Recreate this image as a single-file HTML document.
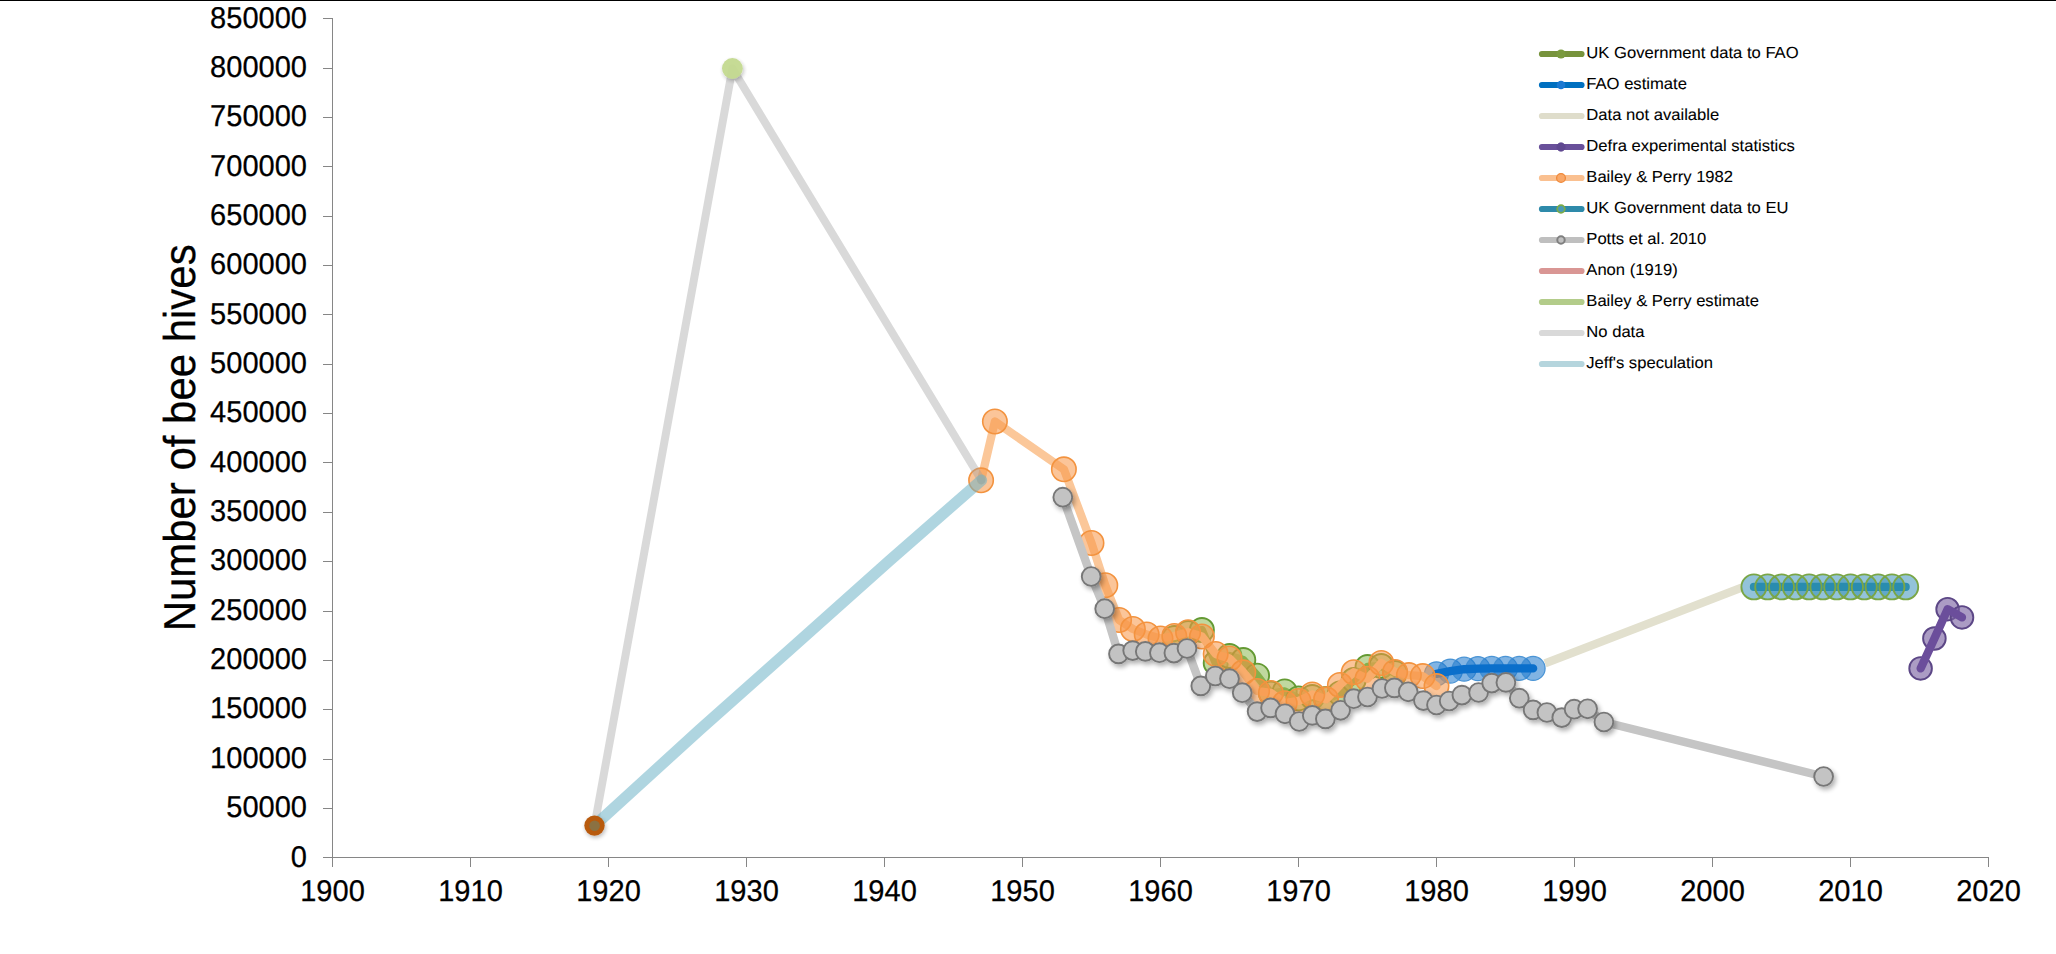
<!DOCTYPE html>
<html lang="en"><head><meta charset="utf-8"><title>Number of bee hives</title>
<style>html,body{margin:0;padding:0;background:#fff}body{width:2056px;height:954px;overflow:hidden}svg{display:block;text-rendering:geometricPrecision}text{font-family:"Liberation Sans",sans-serif;fill:#000;stroke:#000;stroke-width:0.25px}</style>
</head><body>
<svg width="2056" height="954" viewBox="0 0 2056 954">
<rect x="0" y="0" width="2056" height="954" fill="#fff"/>
<rect x="0" y="0" width="2056" height="1" fill="#000"/>
<g stroke="#868686" stroke-width="1" fill="none" shape-rendering="crispEdges">
<line x1="332.5" y1="18" x2="332.5" y2="867"/>
<line x1="323" y1="857.5" x2="1988.5" y2="857.5"/>
<line x1="323" y1="857.5" x2="332.5" y2="857.5"/>
<line x1="323" y1="808.5" x2="332.5" y2="808.5"/>
<line x1="323" y1="759.5" x2="332.5" y2="759.5"/>
<line x1="323" y1="709.5" x2="332.5" y2="709.5"/>
<line x1="323" y1="660.5" x2="332.5" y2="660.5"/>
<line x1="323" y1="611.5" x2="332.5" y2="611.5"/>
<line x1="323" y1="561.5" x2="332.5" y2="561.5"/>
<line x1="323" y1="512.5" x2="332.5" y2="512.5"/>
<line x1="323" y1="462.5" x2="332.5" y2="462.5"/>
<line x1="323" y1="413.5" x2="332.5" y2="413.5"/>
<line x1="323" y1="364.5" x2="332.5" y2="364.5"/>
<line x1="323" y1="314.5" x2="332.5" y2="314.5"/>
<line x1="323" y1="265.5" x2="332.5" y2="265.5"/>
<line x1="323" y1="216.5" x2="332.5" y2="216.5"/>
<line x1="323" y1="166.5" x2="332.5" y2="166.5"/>
<line x1="323" y1="117.5" x2="332.5" y2="117.5"/>
<line x1="323" y1="68.5" x2="332.5" y2="68.5"/>
<line x1="323" y1="18.5" x2="332.5" y2="18.5"/>
<line x1="332.5" y1="857.5" x2="332.5" y2="867"/>
<line x1="470.5" y1="857.5" x2="470.5" y2="867"/>
<line x1="608.5" y1="857.5" x2="608.5" y2="867"/>
<line x1="746.5" y1="857.5" x2="746.5" y2="867"/>
<line x1="884.5" y1="857.5" x2="884.5" y2="867"/>
<line x1="1022.5" y1="857.5" x2="1022.5" y2="867"/>
<line x1="1160.5" y1="857.5" x2="1160.5" y2="867"/>
<line x1="1298.5" y1="857.5" x2="1298.5" y2="867"/>
<line x1="1436.5" y1="857.5" x2="1436.5" y2="867"/>
<line x1="1574.5" y1="857.5" x2="1574.5" y2="867"/>
<line x1="1712.5" y1="857.5" x2="1712.5" y2="867"/>
<line x1="1850.5" y1="857.5" x2="1850.5" y2="867"/>
<line x1="1988.5" y1="857.5" x2="1988.5" y2="867"/>
</g>
<g font-size="30" text-anchor="end">
<text transform="translate(307.0,867.15) scale(0.968,1)">0</text>
<text transform="translate(307.0,817.15) scale(0.968,1)">50000</text>
<text transform="translate(307.0,768.15) scale(0.968,1)">100000</text>
<text transform="translate(307.0,718.15) scale(0.968,1)">150000</text>
<text transform="translate(307.0,669.15) scale(0.968,1)">200000</text>
<text transform="translate(307.0,620.15) scale(0.968,1)">250000</text>
<text transform="translate(307.0,570.15) scale(0.968,1)">300000</text>
<text transform="translate(307.0,521.15) scale(0.968,1)">350000</text>
<text transform="translate(307.0,472.15) scale(0.968,1)">400000</text>
<text transform="translate(307.0,422.15) scale(0.968,1)">450000</text>
<text transform="translate(307.0,373.15) scale(0.968,1)">500000</text>
<text transform="translate(307.0,324.15) scale(0.968,1)">550000</text>
<text transform="translate(307.0,274.15) scale(0.968,1)">600000</text>
<text transform="translate(307.0,225.15) scale(0.968,1)">650000</text>
<text transform="translate(307.0,176.15) scale(0.968,1)">700000</text>
<text transform="translate(307.0,126.15) scale(0.968,1)">750000</text>
<text transform="translate(307.0,77.15) scale(0.968,1)">800000</text>
<text transform="translate(307.0,28.15) scale(0.968,1)">850000</text>
</g>
<g font-size="30" text-anchor="middle">
<text transform="translate(332.5,901.0) scale(0.968,1)">1900</text>
<text transform="translate(470.5,901.0) scale(0.968,1)">1910</text>
<text transform="translate(608.5,901.0) scale(0.968,1)">1920</text>
<text transform="translate(746.5,901.0) scale(0.968,1)">1930</text>
<text transform="translate(884.5,901.0) scale(0.968,1)">1940</text>
<text transform="translate(1022.5,901.0) scale(0.968,1)">1950</text>
<text transform="translate(1160.5,901.0) scale(0.968,1)">1960</text>
<text transform="translate(1298.5,901.0) scale(0.968,1)">1970</text>
<text transform="translate(1436.5,901.0) scale(0.968,1)">1980</text>
<text transform="translate(1574.5,901.0) scale(0.968,1)">1990</text>
<text transform="translate(1712.5,901.0) scale(0.968,1)">2000</text>
<text transform="translate(1850.5,901.0) scale(0.968,1)">2010</text>
<text transform="translate(1988.5,901.0) scale(0.968,1)">2020</text>
</g>
<text font-size="42.67" text-anchor="middle" transform="translate(194.9,437.85) rotate(-90) scale(0.983,1.045)">Number of bee hives</text>
<defs><filter id="sh" x="-50%" y="-50%" width="200%" height="200%"><feGaussianBlur in="SourceAlpha" stdDeviation="2.4"/><feOffset dx="1.5" dy="3.2" result="b"/><feComponentTransfer><feFuncA type="linear" slope="0.32"/></feComponentTransfer><feMerge><feMergeNode/><feMergeNode in="SourceGraphic"/></feMerge></filter><filter id="sh2" x="-50%" y="-50%" width="200%" height="200%"><feGaussianBlur in="SourceAlpha" stdDeviation="2"/><feOffset dx="1.2" dy="2.2" result="b"/><feComponentTransfer><feFuncA type="linear" slope="0.28"/></feComponentTransfer><feMerge><feMergeNode/><feMergeNode in="SourceGraphic"/></feMerge></filter></defs>
<polyline fill="none" stroke="#6f9b30" stroke-width="8.3" stroke-linecap="round" stroke-linejoin="round"  points="1174.3,638.0 1188.1,633.0 1201.9,630.0 1215.7,663.0 1229.5,656.0 1243.3,660.0 1257.1,675.6 1270.9,693.5 1284.7,691.4 1298.5,698.4 1312.3,697.0 1326.1,699.0 1339.9,693.4 1353.7,680.0 1367.5,667.0 1381.3,666.0 1395.1,673.0"/>
<g fill="rgba(150,190,95,0.6)" stroke="#649a33" stroke-width="1.9" >
<circle cx="1174.3" cy="638.0" r="12.0"/>
<circle cx="1188.1" cy="633.0" r="12.0"/>
<circle cx="1201.9" cy="630.0" r="12.0"/>
<circle cx="1215.7" cy="663.0" r="12.0"/>
<circle cx="1229.5" cy="656.0" r="12.0"/>
<circle cx="1243.3" cy="660.0" r="12.0"/>
<circle cx="1257.1" cy="675.6" r="12.0"/>
<circle cx="1270.9" cy="693.5" r="12.0"/>
<circle cx="1284.7" cy="691.4" r="12.0"/>
<circle cx="1298.5" cy="698.4" r="12.0"/>
<circle cx="1312.3" cy="697.0" r="12.0"/>
<circle cx="1326.1" cy="699.0" r="12.0"/>
<circle cx="1339.9" cy="693.4" r="12.0"/>
<circle cx="1353.7" cy="680.0" r="12.0"/>
<circle cx="1367.5" cy="667.0" r="12.0"/>
<circle cx="1381.3" cy="666.0" r="12.0"/>
<circle cx="1395.1" cy="673.0" r="12.0"/>
</g>
<g fill="rgba(30,122,205,0.56)" stroke="rgba(60,140,210,0.9)" stroke-width="1.2" >
<circle cx="1436.5" cy="673.8" r="12.0"/>
<circle cx="1450.3" cy="671.1" r="12.0"/>
<circle cx="1464.1" cy="669.2" r="12.0"/>
<circle cx="1477.9" cy="668.6" r="12.0"/>
<circle cx="1491.7" cy="668.4" r="12.0"/>
<circle cx="1505.5" cy="668.4" r="12.0"/>
<circle cx="1519.3" cy="668.4" r="12.0"/>
<circle cx="1533.1" cy="668.4" r="12.0"/>
</g>
<polyline fill="none" stroke="#0a6fcb" stroke-width="8.4" stroke-linecap="round" stroke-linejoin="round"  points="1436.5,673.8 1450.3,671.1 1464.1,669.2 1477.9,668.6 1491.7,668.4 1505.5,668.4 1519.3,668.4 1533.1,668.4"/>
<polyline fill="none" stroke="#e2e0ce" stroke-width="8.4" stroke-linecap="round" stroke-linejoin="round" style="stroke-linecap:butt" points="1545.0,663.4 1742.3,587.4"/>
<g fill="rgba(120,95,160,0.62)" stroke="#5c4786" stroke-width="1.9" >
<circle cx="1920.6" cy="668.4" r="11.3"/>
<circle cx="1934.4" cy="638.5" r="11.3"/>
<circle cx="1947.6" cy="609.2" r="11.3"/>
<circle cx="1962.0" cy="617.4" r="11.3"/>
</g>
<polyline fill="none" stroke="#6b4e9b" stroke-width="8.3" stroke-linecap="round" stroke-linejoin="round"  points="1920.6,668.4 1934.4,638.5 1947.6,609.2 1962.0,617.4"/>
<polyline fill="none" stroke="#fbc799" stroke-width="8.3" stroke-linecap="round" stroke-linejoin="round"  points="981.1,480.3 994.9,421.5 1063.9,469.3 1091.5,543.0 1105.3,585.2 1119.1,620.0 1132.9,629.0 1146.7,634.5 1160.5,638.5 1174.3,636.0 1188.1,632.2 1201.9,636.5 1215.7,654.0 1229.5,658.5 1243.3,672.3 1257.1,691.0 1270.9,692.9 1284.7,703.2 1298.5,700.9 1312.3,694.5 1326.1,699.3 1339.9,685.0 1353.7,672.2 1367.5,678.7 1381.3,663.0 1395.1,671.9 1408.9,675.1 1422.7,676.1 1436.5,686.1"/>
<g fill="rgba(247,150,70,0.55)" stroke="#f3933f" stroke-width="1.6" >
<circle cx="981.1" cy="480.3" r="12.2"/>
<circle cx="994.9" cy="421.5" r="12.2"/>
<circle cx="1063.9" cy="469.3" r="12.2"/>
<circle cx="1091.5" cy="543.0" r="12.2"/>
<circle cx="1105.3" cy="585.2" r="12.2"/>
<circle cx="1119.1" cy="620.0" r="12.2"/>
<circle cx="1132.9" cy="629.0" r="12.2"/>
<circle cx="1146.7" cy="634.5" r="12.2"/>
<circle cx="1160.5" cy="638.5" r="12.2"/>
<circle cx="1174.3" cy="636.0" r="12.2"/>
<circle cx="1188.1" cy="632.2" r="12.2"/>
<circle cx="1201.9" cy="636.5" r="12.2"/>
<circle cx="1215.7" cy="654.0" r="12.2"/>
<circle cx="1229.5" cy="658.5" r="12.2"/>
<circle cx="1243.3" cy="672.3" r="12.2"/>
<circle cx="1257.1" cy="691.0" r="12.2"/>
<circle cx="1270.9" cy="692.9" r="12.2"/>
<circle cx="1284.7" cy="703.2" r="12.2"/>
<circle cx="1298.5" cy="700.9" r="12.2"/>
<circle cx="1312.3" cy="694.5" r="12.2"/>
<circle cx="1326.1" cy="699.3" r="12.2"/>
<circle cx="1339.9" cy="685.0" r="12.2"/>
<circle cx="1353.7" cy="672.2" r="12.2"/>
<circle cx="1367.5" cy="678.7" r="12.2"/>
<circle cx="1381.3" cy="663.0" r="12.2"/>
<circle cx="1395.1" cy="671.9" r="12.2"/>
<circle cx="1408.9" cy="675.1" r="12.2"/>
<circle cx="1422.7" cy="676.1" r="12.2"/>
<circle cx="1436.5" cy="686.1" r="12.2"/>
</g>
<g fill="rgba(58,145,185,0.55)" stroke="none" stroke-width="0" >
<circle cx="1753.9" cy="586.9" r="12.5"/>
<circle cx="1767.7" cy="586.9" r="12.5"/>
<circle cx="1781.5" cy="586.9" r="12.5"/>
<circle cx="1795.3" cy="586.9" r="12.5"/>
<circle cx="1809.1" cy="586.9" r="12.5"/>
<circle cx="1822.9" cy="586.9" r="12.5"/>
<circle cx="1836.7" cy="586.9" r="12.5"/>
<circle cx="1850.5" cy="586.9" r="12.5"/>
<circle cx="1864.3" cy="586.9" r="12.5"/>
<circle cx="1878.1" cy="586.9" r="12.5"/>
<circle cx="1891.9" cy="586.9" r="12.5"/>
<circle cx="1905.7" cy="586.9" r="12.5"/>
</g>
<polyline fill="none" stroke="rgba(36,138,172,0.92)" stroke-width="8.2" stroke-linecap="round" stroke-linejoin="round"  points="1753.9,586.9 1767.7,586.9 1781.5,586.9 1795.3,586.9 1809.1,586.9 1822.9,586.9 1836.7,586.9 1850.5,586.9 1864.3,586.9 1878.1,586.9 1891.9,586.9 1905.7,586.9"/>
<g fill="none" stroke="#7aa646" stroke-width="1.9" >
<circle cx="1753.9" cy="586.9" r="12.5"/>
<circle cx="1767.7" cy="586.9" r="12.5"/>
<circle cx="1781.5" cy="586.9" r="12.5"/>
<circle cx="1795.3" cy="586.9" r="12.5"/>
<circle cx="1809.1" cy="586.9" r="12.5"/>
<circle cx="1822.9" cy="586.9" r="12.5"/>
<circle cx="1836.7" cy="586.9" r="12.5"/>
<circle cx="1850.5" cy="586.9" r="12.5"/>
<circle cx="1864.3" cy="586.9" r="12.5"/>
<circle cx="1878.1" cy="586.9" r="12.5"/>
<circle cx="1891.9" cy="586.9" r="12.5"/>
<circle cx="1905.7" cy="586.9" r="12.5"/>
</g>
<polyline fill="none" stroke="#c5c5c5" stroke-width="8.4" stroke-linecap="round" stroke-linejoin="round"  points="1062.8,497.2 1091.2,576.5 1104.7,608.7 1118.5,653.9 1132.7,650.6 1145.3,651.4 1159.4,652.7 1173.9,653.1 1187.0,648.5 1200.8,685.9 1215.3,676.0 1229.5,678.7 1242.2,692.7 1257.1,711.6 1270.6,707.9 1285.0,713.8 1299.2,721.5 1312.3,715.4 1325.4,718.9 1340.6,710.3 1353.7,698.7 1367.5,697.0 1382.0,688.5 1394.4,687.9 1408.2,691.8 1423.4,700.6 1436.5,705.0 1449.2,701.0 1461.9,695.1 1478.6,692.5 1491.7,683.1 1505.9,682.4 1519.3,698.2 1533.1,709.9 1546.9,712.5 1561.8,717.6 1574.1,709.2 1587.6,708.8 1603.9,722.0 1823.6,776.5"/>
<g fill="#c3c3c3" stroke="#777777" stroke-width="1.9" filter="url(#sh)">
<circle cx="1062.8" cy="497.2" r="9.4"/>
<circle cx="1091.2" cy="576.5" r="9.4"/>
<circle cx="1104.7" cy="608.7" r="9.4"/>
<circle cx="1118.5" cy="653.9" r="9.4"/>
<circle cx="1132.7" cy="650.6" r="9.4"/>
<circle cx="1145.3" cy="651.4" r="9.4"/>
<circle cx="1159.4" cy="652.7" r="9.4"/>
<circle cx="1173.9" cy="653.1" r="9.4"/>
<circle cx="1187.0" cy="648.5" r="9.4"/>
<circle cx="1200.8" cy="685.9" r="9.4"/>
<circle cx="1215.3" cy="676.0" r="9.4"/>
<circle cx="1229.5" cy="678.7" r="9.4"/>
<circle cx="1242.2" cy="692.7" r="9.4"/>
<circle cx="1257.1" cy="711.6" r="9.4"/>
<circle cx="1270.6" cy="707.9" r="9.4"/>
<circle cx="1285.0" cy="713.8" r="9.4"/>
<circle cx="1299.2" cy="721.5" r="9.4"/>
<circle cx="1312.3" cy="715.4" r="9.4"/>
<circle cx="1325.4" cy="718.9" r="9.4"/>
<circle cx="1340.6" cy="710.3" r="9.4"/>
<circle cx="1353.7" cy="698.7" r="9.4"/>
<circle cx="1367.5" cy="697.0" r="9.4"/>
<circle cx="1382.0" cy="688.5" r="9.4"/>
<circle cx="1394.4" cy="687.9" r="9.4"/>
<circle cx="1408.2" cy="691.8" r="9.4"/>
<circle cx="1423.4" cy="700.6" r="9.4"/>
<circle cx="1436.5" cy="705.0" r="9.4"/>
<circle cx="1449.2" cy="701.0" r="9.4"/>
<circle cx="1461.9" cy="695.1" r="9.4"/>
<circle cx="1478.6" cy="692.5" r="9.4"/>
<circle cx="1491.7" cy="683.1" r="9.4"/>
<circle cx="1505.9" cy="682.4" r="9.4"/>
<circle cx="1519.3" cy="698.2" r="9.4"/>
<circle cx="1533.1" cy="709.9" r="9.4"/>
<circle cx="1546.9" cy="712.5" r="9.4"/>
<circle cx="1561.8" cy="717.6" r="9.4"/>
<circle cx="1574.1" cy="709.2" r="9.4"/>
<circle cx="1587.6" cy="708.8" r="9.4"/>
<circle cx="1603.9" cy="722.0" r="9.4"/>
<circle cx="1823.6" cy="776.5" r="9.4"/>
</g>
<polyline fill="none" stroke="rgba(160,160,160,0.4)" stroke-width="8.0" stroke-linecap="round" stroke-linejoin="round"  points="594.5,825.6 732.4,68.5 981.5,480.2"/>
<polyline fill="none" stroke="rgba(110,178,198,0.55)" stroke-width="11.3" stroke-linecap="round" stroke-linejoin="round"  points="594.5,825.6 700.0,729.5 790.0,649.5 889.7,560.5 981.5,480.2"/>
<g fill="#b85a0e" stroke="#b85a0e" stroke-width="0" filter="url(#sh2)">
<circle cx="594.5" cy="825.6" r="10.2"/>
</g>
<g fill="#8b7142" stroke="none" stroke-width="0" >
<circle cx="594.6" cy="825.8" r="5.3"/>
</g>
<g fill="#c3d98f" stroke="#c3d98f" stroke-width="0" filter="url(#sh2)" opacity="0.94">
<circle cx="732.4" cy="68.5" r="10.4"/>
</g>
<line x1="1542" y1="54.0" x2="1581.5" y2="54.0" stroke="#77933c" stroke-width="6.2" stroke-linecap="round"/>
<circle cx="1561" cy="54.0" r="4.6" fill="#7a9a3e" stroke="#7a9a3e" stroke-width="0"/>
<text transform="translate(1586.3,58.2) scale(1.038,1)" font-size="16" style="stroke-width:0.08px">UK Government data to FAO</text>
<line x1="1542" y1="85.0" x2="1581.5" y2="85.0" stroke="#0070c0" stroke-width="6.2" stroke-linecap="round"/>
<circle cx="1561" cy="85.0" r="4.3" fill="#1a79d2" stroke="#1a79d2" stroke-width="0"/>
<text transform="translate(1586.3,89.2) scale(1.038,1)" font-size="16" style="stroke-width:0.08px">FAO estimate</text>
<line x1="1542" y1="116.0" x2="1581.5" y2="116.0" stroke="#dfddcb" stroke-width="6.2" stroke-linecap="round"/>
<text transform="translate(1586.3,120.2) scale(1.038,1)" font-size="16" style="stroke-width:0.08px">Data not available</text>
<line x1="1542" y1="147.0" x2="1581.5" y2="147.0" stroke="#69509a" stroke-width="6.2" stroke-linecap="round"/>
<circle cx="1561" cy="147.0" r="4.2" fill="#5f4890" stroke="#5f4890" stroke-width="0.8"/>
<text transform="translate(1586.3,151.2) scale(1.038,1)" font-size="16" style="stroke-width:0.08px">Defra experimental statistics</text>
<line x1="1542" y1="178.0" x2="1581.5" y2="178.0" stroke="#fac090" stroke-width="6.2" stroke-linecap="round"/>
<circle cx="1561" cy="178.0" r="4.4" fill="#f9a868" stroke="#f0893a" stroke-width="1.3"/>
<text transform="translate(1586.3,182.2) scale(1.038,1)" font-size="16" style="stroke-width:0.08px">Bailey &amp; Perry 1982</text>
<line x1="1542" y1="209.0" x2="1581.5" y2="209.0" stroke="#2e8aaa" stroke-width="6.2" stroke-linecap="round"/>
<circle cx="1561" cy="209.0" r="3.8" fill="#4a9ab5" stroke="#7cab46" stroke-width="1.7"/>
<text transform="translate(1586.3,213.2) scale(1.038,1)" font-size="16" style="stroke-width:0.08px">UK Government data to EU</text>
<line x1="1542" y1="240.0" x2="1581.5" y2="240.0" stroke="#bfbfbf" stroke-width="6.2" stroke-linecap="round"/>
<circle cx="1561" cy="240.0" r="3.7" fill="#c0c0c0" stroke="#7f7f7f" stroke-width="2.0"/>
<text transform="translate(1586.3,244.2) scale(1.038,1)" font-size="16" style="stroke-width:0.08px">Potts et al. 2010</text>
<line x1="1542" y1="271.0" x2="1581.5" y2="271.0" stroke="#d99694" stroke-width="6.2" stroke-linecap="round"/>
<text transform="translate(1586.3,275.2) scale(1.038,1)" font-size="16" style="stroke-width:0.08px">Anon (1919)</text>
<line x1="1542" y1="302.0" x2="1581.5" y2="302.0" stroke="#b3cc8a" stroke-width="6.2" stroke-linecap="round"/>
<text transform="translate(1586.3,306.2) scale(1.038,1)" font-size="16" style="stroke-width:0.08px">Bailey &amp; Perry estimate</text>
<line x1="1542" y1="333.0" x2="1581.5" y2="333.0" stroke="#d9d9d9" stroke-width="6.2" stroke-linecap="round"/>
<text transform="translate(1586.3,337.2) scale(1.038,1)" font-size="16" style="stroke-width:0.08px">No data</text>
<line x1="1542" y1="364.0" x2="1581.5" y2="364.0" stroke="#b5d5dd" stroke-width="6.2" stroke-linecap="round"/>
<text transform="translate(1586.3,368.2) scale(1.038,1)" font-size="16" style="stroke-width:0.08px">Jeff's speculation</text>
</svg>
</body></html>
